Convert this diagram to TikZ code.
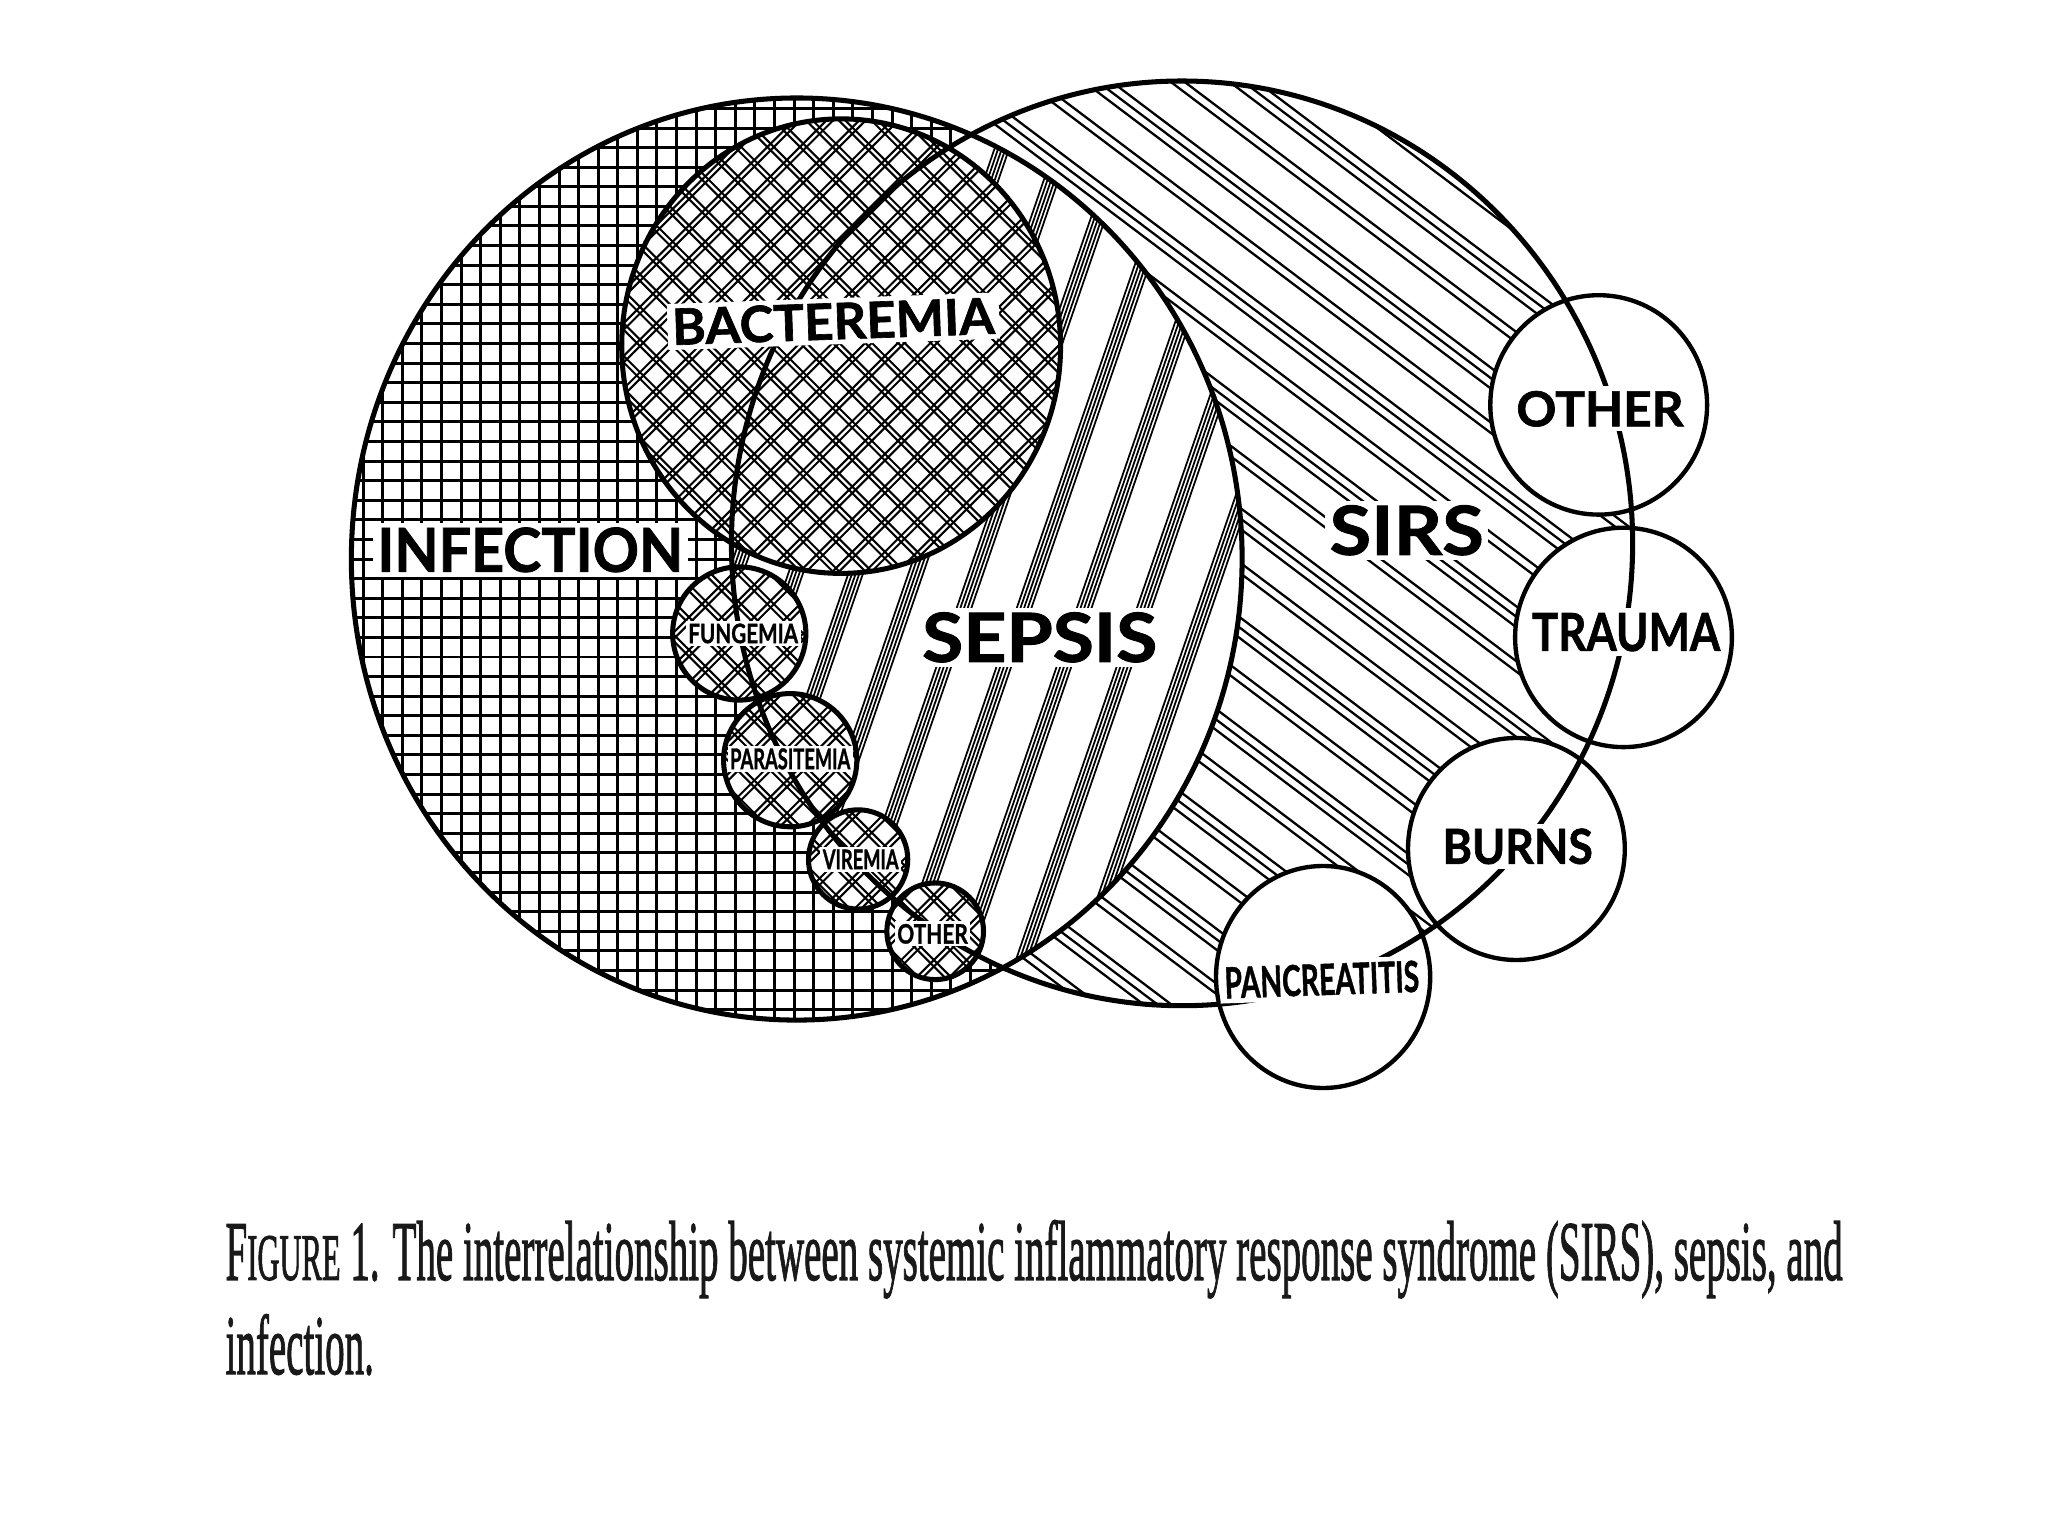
\documentclass[tikz,border=0pt]{standalone}
\usepackage{fontspec}
\usepackage{graphicx}
\setmainfont{Lato}[BoldFeatures={FakeBold=1.3}]
\newfontfamily\capfont{Liberation Serif}[FakeBold=1.6]
\tikzset{
  gridln/.style={line width=0.65pt},
  shatch/.style={line width=0.5pt},
  stripe/.style={line width=0.38pt},
  xh/.style={line width=0.45pt},
  outline/.style={line width=1.1pt},
  ringline/.style={line width=0.95pt},
  lab/.style={fill=white, inner sep=0.35mm, font=\bfseries},
}
\newcommand\lbl[3]{\resizebox{#1mm}{#2mm}{#3}}
\newcommand\crossfill{%
  \foreach \c in {550,575,...,1625} {%
    \draw[xh] (\c-80,80) -- (\c-770,770);
    \draw[xh] (\c-75,80) -- (\c-765,770);
  }%
  \foreach \d in {-100,-75,...,750} {%
    \draw[xh] (\d+80,80) -- (\d+770,770);
    \draw[xh] (\d+85,80) -- (\d+775,770);
  }}
\def\infpath{(610,428) ellipse [x radius=34.1mm, y radius=35.3mm]}
\def\sirspath{(905,416) ellipse [x radius=34.5mm, y radius=35.4mm]}
\def\bacpath{(644,265) ellipse [x radius=16.8mm, y radius=17.4mm]}
\def\fungpath{(566,485) circle [radius=5.1mm]}
\def\parapath{(605,582) circle [radius=5.1mm]}
\def\virpath{(657,658) circle [radius=3.8mm]}
\def\othlpath{(716,713) circle [radius=3.7mm]}
\def\othrpath{(1224,310) ellipse [x radius=8.3mm, y radius=8.4mm]}
\def\traupath{(1243,488) ellipse [x radius=8.3mm, y radius=8.4mm]}
\def\burnpath{(1161,650) ellipse [x radius=8.3mm, y radius=8.5mm]}
\def\pancpath{(1013,748) ellipse [x radius=8.2mm, y radius=8.5mm]}
\begin{document}
\begin{tikzpicture}[x=0.1mm,y=-0.1mm]
\useasboundingbox (0,0) rectangle (1568,1176);
\fill[white] (0,0) rectangle (1568,1176);
% infection grid
\begin{scope}
  \clip \infpath;
  \foreach \x in {263,278,...,958} \draw[gridln] (\x,60) -- (\x,800);
  \foreach \y in {68,83,...,788} \draw[gridln] (250,\y) -- (970,\y);
\end{scope}
% SIRS hatch
\begin{scope}
  \clip \sirspath;
  \foreach \c in {-340,-256,...,700} {
    \draw[shatch] (540,\c) -- (1280,\c+558);
    \draw[shatch] (540,\c+8) -- (1280,\c+566);
    \draw[shatch] (540,\c+16) -- (1280,\c+574);
  }
  \foreach \c in {-298,-214,...,700} {
    \draw[shatch] (540,\c) -- (1280,\c+558);
    \draw[shatch] (540,\c+8) -- (1280,\c+566);
  }
\end{scope}
% sepsis (intersection)
\begin{scope}
  \clip \infpath;
  \fill[white] \sirspath;
  \clip \sirspath;
  \foreach \k in {-5,...,5} {
    \foreach \o in {-5.6,-2.8,0,2.8,5.6} {
      \pgfmathsetmacro\xa{722+46*\k+\o}
      \draw[stripe] (\xa-99,800) -- (\xa+159,50);
    }
  }
\end{scope}
% crosshatched circles
\begin{scope}\fill[white] \bacpath; \clip \bacpath; \crossfill\end{scope}
\begin{scope}\fill[white] \fungpath; \clip \fungpath; \crossfill\end{scope}
\begin{scope}\fill[white] \parapath; \clip \parapath; \crossfill\end{scope}
\begin{scope}\fill[white] \virpath; \clip \virpath; \crossfill\end{scope}
\begin{scope}\fill[white] \othlpath; \clip \othlpath; \crossfill\end{scope}
% white circles on the right
\fill[white] \othrpath;
\fill[white] \traupath;
\fill[white] \burnpath;
\fill[white] \pancpath;
% outlines
\draw[outline] \infpath;
\draw[outline] \bacpath;
\draw[outline] \fungpath;
\draw[outline] \parapath;
\draw[outline] \virpath;
\draw[outline] \othlpath;
\draw[ringline] \othrpath;
\draw[ringline] \traupath;
\draw[ringline] \burnpath;
\draw[ringline] \pancpath;
\draw[outline] \sirspath;
% labels
\node[lab] (infection) at (406,421) {\lbl{23.4}{3.4}{INFECTION}};
\node[lab, rotate=2] (bacteremia) at (638,246) {\lbl{24.7}{2.8}{BACTEREMIA}};
\node[lab] (sepsis) at (796,488) {\lbl{18.0}{3.8}{SEPSIS}};
\node[lab] (sirs) at (1077,406) {\lbl{11.8}{3.8}{SIRS}};
\node[lab] (otherR) at (1225,313) {\lbl{12.8}{2.7}{OTHER}};
\node[lab] (trauma) at (1245,484) {\lbl{14.4}{2.9}{TRAUMA}};
\node[lab] (burns) at (1162,648) {\lbl{11.5}{2.7}{BURNS}};
\node[lab, rotate=2] (pancreatitis) at (1012,750) {\lbl{14.9}{2.4}{PANCREATITIS}};
\node[lab, inner sep=0.2mm] (fungemia) at (569,485) {\lbl{8.4}{1.5}{FUNGEMIA}};
\node[lab, inner sep=0.2mm] (parasitemia) at (605,581) {\lbl{9.2}{1.6}{PARASITEMIA}};
\node[lab, inner sep=0.2mm] (viremia) at (659,658) {\lbl{5.8}{1.5}{VIREMIA}};
\node[lab, inner sep=0.2mm] (otherL) at (714,715) {\lbl{5.4}{1.5}{OTHER}};
% caption
\node[anchor=base west, inner sep=0, text=black!90] (caption) at (172,1052) {\resizebox{123.8mm}{\height}{\vbox{\capfont\fontsize{18.5}{20.5}\selectfont
  \hbox{F{\fontsize{14.5}{16}\selectfont IGURE} 1. The interrelationship between systemic inflammatory response syndrome (SIRS), sepsis, and}
  \hbox{infection.}}}};
\end{tikzpicture}
\end{document}
